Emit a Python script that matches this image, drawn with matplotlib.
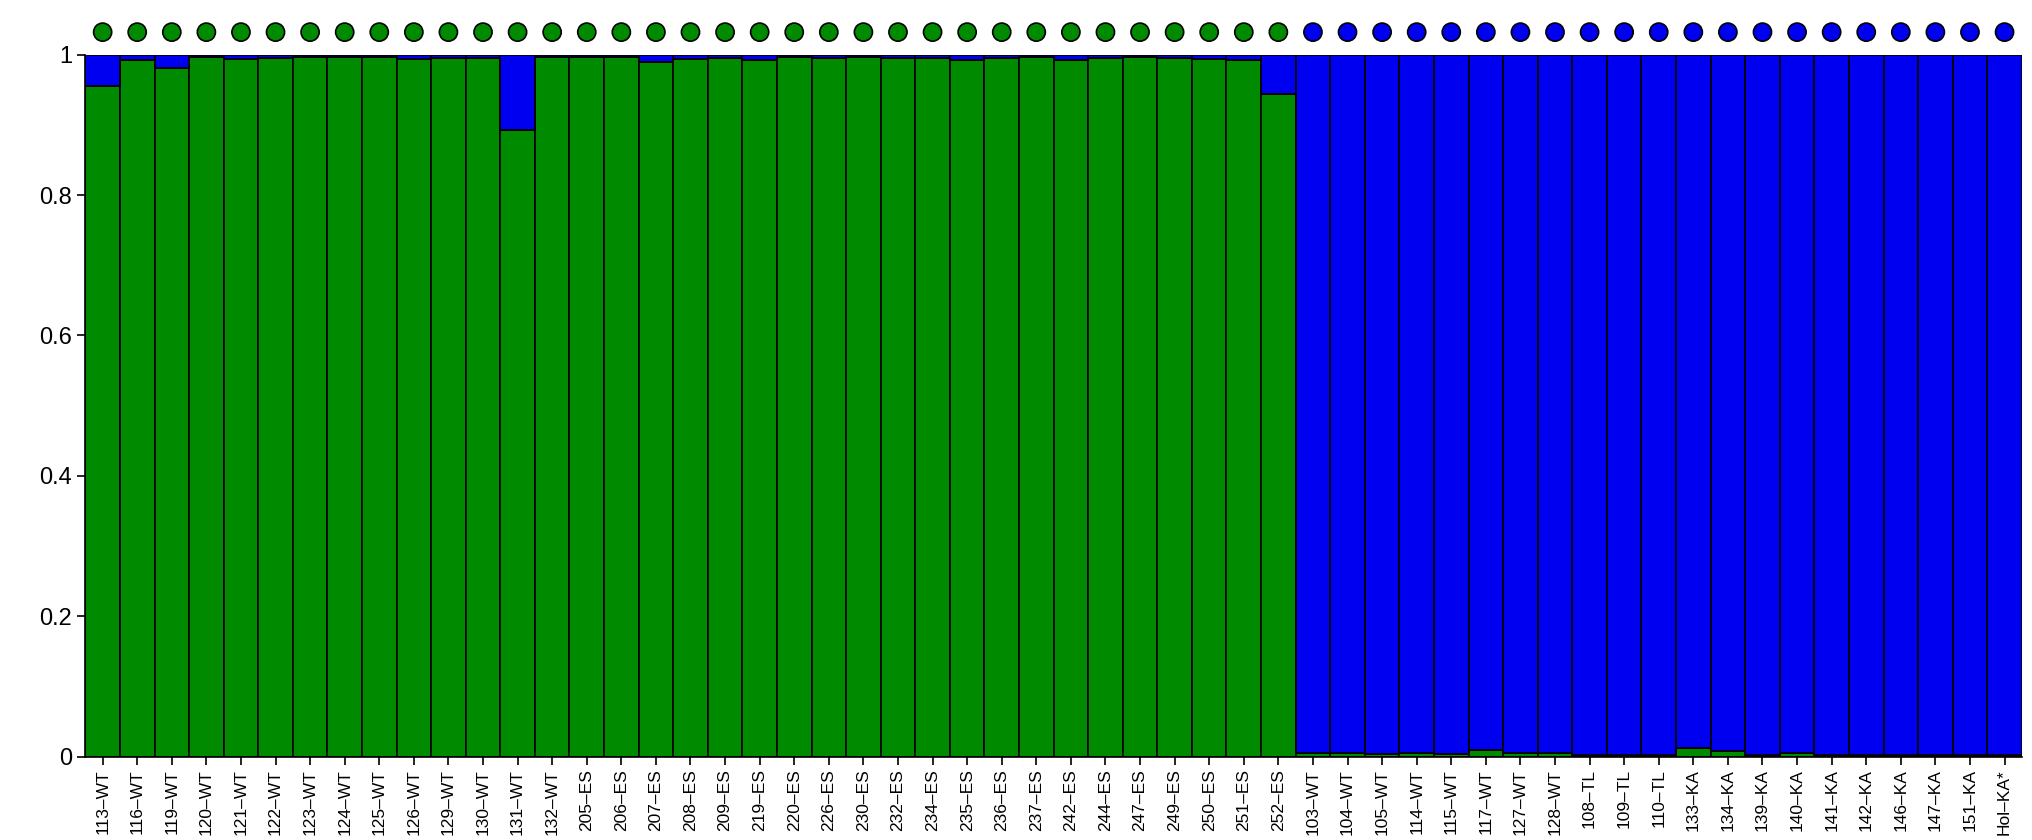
import matplotlib
matplotlib.use("Agg")
import matplotlib.pyplot as plt
import numpy as np

samples = ["113–WT", "116–WT", "119–WT", "120–WT", "121–WT", "122–WT", "123–WT", "124–WT",
           "125–WT", "126–WT", "129–WT", "130–WT", "131–WT", "132–WT", "205–ES", "206–ES",
           "207–ES", "208–ES", "209–ES", "219–ES", "220–ES", "226–ES", "230–ES", "232–ES",
           "234–ES", "235–ES", "236–ES", "237–ES", "242–ES", "244–ES", "247–ES", "249–ES",
           "250–ES", "251–ES", "252–ES",
           "103–WT", "104–WT", "105–WT", "114–WT", "115–WT", "117–WT", "127–WT", "128–WT",
           "108–TL", "109–TL", "110–TL", "133–KA", "134–KA", "139–KA", "140–KA", "141–KA",
           "142–KA", "146–KA", "147–KA", "151–KA", "Hol–KA*"]
green_share = [0.955, 0.992, 0.981, 0.997, 0.994, 0.995, 0.996, 0.996, 0.997, 0.994, 0.995,
               0.995, 0.892, 0.997, 0.997, 0.997, 0.989, 0.994, 0.995, 0.993, 0.996, 0.995,
               0.996, 0.995, 0.995, 0.993, 0.995, 0.996, 0.993, 0.995, 0.997, 0.995, 0.994,
               0.993, 0.944,
               0.006, 0.006, 0.004, 0.005, 0.004, 0.010, 0.005, 0.005, 0.003, 0.003, 0.003,
               0.012, 0.008, 0.003, 0.005, 0.003, 0.003, 0.002, 0.003, 0.003, 0.003]
cluster = ["green"] * 35 + ["blue"] * 21

GREEN = "#008a00"
BLUE = "#0000f0"

plt.rcParams["font.family"] = ["Liberation Sans", "DejaVu Sans"]
fig = plt.figure(figsize=(20.32, 8.4), dpi=100)
ax = fig.add_axes([0.042, 0.099, 0.953, 0.836])

x = np.arange(len(samples))
g = np.array(green_share)
ax.bar(x, g, width=1.0, color=GREEN, edgecolor="black", linewidth=1.2)
ax.bar(x, 1 - g, bottom=g, width=1.0, color=BLUE, edgecolor="black", linewidth=1.2)

dot_colors = [GREEN if c == "green" else BLUE for c in cluster]
ax.scatter(x, np.full(len(x), 1.032), s=170, c=dot_colors, edgecolors="black",
           linewidths=1.2, clip_on=False, zorder=5)

ax.set_xlim(-0.5, len(samples) - 0.5)
ax.set_ylim(0, 1)
ax.set_yticks([0, 0.2, 0.4, 0.6, 0.8, 1])
ax.set_yticklabels(["0", "0.2", "0.4", "0.6", "0.8", "1"], fontsize=17)
ax.set_xticks(x)
ax.set_xticklabels(samples, rotation=90, fontsize=12.5)
ax.tick_params(axis="both", length=6, width=1.2)
ax.tick_params(axis="x", pad=3)
for side in ["top", "right"]:
    ax.spines[side].set_visible(False)
ax.spines["left"].set_linewidth(1.2)
ax.spines["bottom"].set_linewidth(1.2)

fig.savefig("out.png", dpi=100)
